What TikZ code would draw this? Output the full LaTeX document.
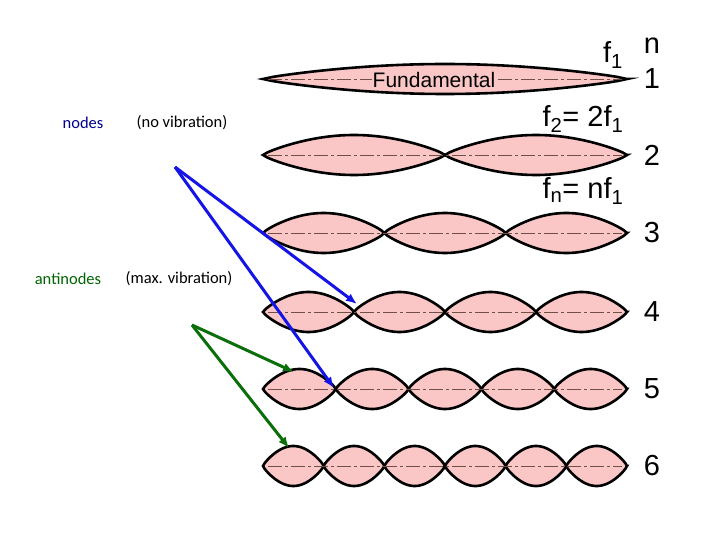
\documentclass[tikz,border=0pt]{standalone}
\usepackage{fontspec}
\usetikzlibrary{arrows.meta}
\setmainfont{Liberation Sans}
\newfontfamily\calfont{Carlito}
\definecolor{pinkfill}{RGB}{250,198,198}
\definecolor{axisc}{RGB}{110,80,70}
\definecolor{nblue}{RGB}{0,0,140}
\definecolor{agreen}{RGB}{0,100,0}
\definecolor{ablue}{RGB}{20,20,230}
\definecolor{agr}{RGB}{10,110,10}
\begin{document}
\begin{tikzpicture}[x=1pt,y=-1pt,
  lbl/.style={font=\fontsize{29}{31}\selectfont, inner sep=0pt},
  side/.style={font=\calfont\fontsize{16.5}{18}\selectfont, inner sep=0pt},
  arr/.style={line width=3pt,-{Latex[length=11pt,width=9pt]}}]
\useasboundingbox (0,0) rectangle (720,540);
\fill[white] (0,0) rectangle (720,540);
\foreach \n/\yc/\A in {1/79/15,2/155/20,3/233/20,4/312/20,5/389/20,6/466/20}{
  \pgfmathsetmacro{\L}{364/\n}
  \foreach \k in {1,...,\n}{
    \pgfmathsetmacro{\xa}{263+(\k-1)*\L}
    \filldraw[fill=pinkfill,draw=black,line width=2.6pt,line join=miter]
      plot[domain=0:180,samples=40,variable=\t] ({\xa+\t/180*\L},{\yc-\A*(sin(\t))^0.8})
      -- plot[domain=180:0,samples=40,variable=\t] ({\xa+\t/180*\L},{\yc+\A*(sin(\t))^0.8}) -- cycle;
  }
  \draw[axisc,line width=0.8pt,dash pattern=on 14pt off 3pt on 3pt off 3pt] (268,\yc) -- (622,\yc);
  \node[lbl] (n\n) at (652,\yc) {\n};
}
\node[font=\fontsize{21}{23}\selectfont,fill=pinkfill,inner sep=1pt] (fund) at (434,80) {Fundamental};
\node[lbl] (nn) at (652,46) {n};
\node[lbl] (f1) at (613,55) {f\textsubscript{1}};
\node[lbl] (f2) at (583,119) {f\textsubscript{2}= 2f\textsubscript{1}};
\node[lbl] (fn) at (583,191) {f\textsubscript{n}= nf\textsubscript{1}};
\node[side,text=nblue] (nodes) at (83,123) {nodes};
\node[side] (nov) at (182,123) {(no vibration)};
\node[side,text=agreen] (anti) at (68,279) {antinodes};
\node[side] (maxv) at (179,279) {(max. vibration)};
\coordinate (bs) at (175,167);
\coordinate (b4) at (357,304);
\coordinate (b5) at (334,388);
\coordinate (gs) at (192,325);
\coordinate (g5) at (294,372);
\coordinate (g6) at (289,448);
\draw[arr,ablue] (bs) -- (b4);
\draw[arr,ablue] (bs) -- (b5);
\draw[arr,agr] (gs) -- (g5);
\draw[arr,agr] (gs) -- (g6);
\end{tikzpicture}
\end{document}
